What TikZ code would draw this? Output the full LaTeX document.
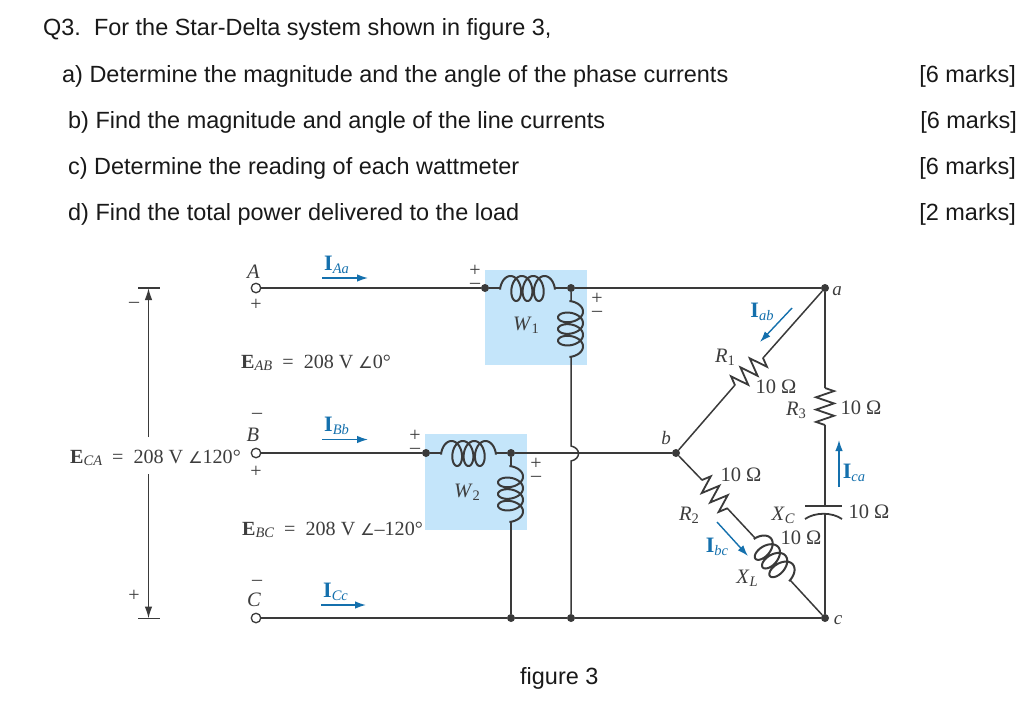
\documentclass[tikz,border=0pt]{standalone}
\usepackage{fontspec}
\setmainfont{Liberation Serif}
\newfontfamily\arialf{Liberation Sans}
\newfontfamily\djv{DejaVu Sans}
\usetikzlibrary{arrows.meta}
\definecolor{wire}{HTML}{3A3A3A}
\definecolor{ink}{HTML}{3D3D3D}
\definecolor{cblue}{HTML}{1470AD}
\definecolor{boxb}{HTML}{C4E5FA}
\newcommand\sbx[1]{\raisebox{-0.32ex}{\fontsize{14.5}{16}\selectfont #1}}
\newcommand\ang{{\djv\fontsize{16}{18}\selectfont ∠}}
\newcommand\bI[1]{\textbf{I}\sbx{\itshape #1}}
\newcommand\bE[1]{\textbf{E}\sbx{\itshape #1}}
\newcommand\mycoil[4]{% x y angle length
  \begin{scope}[shift={(#1,#2)},rotate=#3]
    \draw[wirel,line width=2pt] plot[variable=\t,domain=-95:1175,samples=180,smooth]
      ({(#4-15)*((\t+95)/1270)+7.5*sin(\t)+7.5},{-12.5*cos(\t)+0.5});
  \end{scope}}
\newcommand\myres[4]{% x y angle length
  \begin{scope}[shift={(#1,#2)},rotate=#3]
    \draw[wirel,line width=1.8pt,line join=miter]
      (0,0) -- ({#4*0.083},-9) -- ({#4*0.25},9) -- ({#4*0.417},-9) -- ({#4*0.583},9) -- ({#4*0.75},-9) -- ({#4*0.917},9) -- (#4,0);
  \end{scope}}
\tikzset{
  wirel/.style={draw=wire,line width=1.5pt},
  junction/.style={circle,fill=wire,inner sep=0pt,minimum size=8pt},
  terminal/.style={circle,draw=wire,fill=white,line width=1.3pt,inner sep=0pt,minimum size=9.5pt},
  qtext/.style={font=\arialf\fontsize{23.45}{27}\selectfont,text=black!90,anchor=base west,inner sep=0pt},
  mtext/.style={font=\arialf\fontsize{23.45}{27}\selectfont,text=black!90,anchor=base east,inner sep=0pt},
  ctext/.style={font=\fontsize{20.5}{24}\selectfont,text=ink,inner sep=0pt},
  ltext/.style={font=\fontsize{20.1}{24}\selectfont,text=ink,inner sep=0pt,anchor=base west},
  blab/.style={font=\fontsize{22}{25}\selectfont,text=cblue,inner sep=0pt},
  blabb/.style={font=\fontsize{22}{25}\selectfont,text=cblue,inner sep=0pt,anchor=base west},
  carrow/.style={draw=cblue,line width=1.4pt,-{Latex[length=11pt,width=7.5pt]}},
  varrow/.style={draw=wire,line width=1.4pt,-{Latex[length=12pt,width=7.5pt]}},
  sign/.style={font=\fontsize{20}{22}\selectfont,text=ink,inner sep=0pt},
  signpair/.style={font=\fontsize{20}{12}\selectfont,text=ink,inner sep=0pt,align=center},
  wbox/.style={fill=boxb,draw=none}
}
\begin{document}
\begin{tikzpicture}[x=1pt,y=-1pt]
\useasboundingbox (0,0) rectangle (1024,713);
\fill[white] (0,0) rectangle (1024,713);
% question text
\node[qtext] (q0) at (43,35) {Q3.\ \ For the Star-Delta system shown in figure 3,};
\node[qtext] (q1) at (62,82) {a) Determine the magnitude and the angle of the phase currents};
\node[qtext] (q2) at (68,128) {b) Find the magnitude and angle of the line currents};
\node[qtext] (q3) at (68,174) {c) Determine the reading of each wattmeter};
\node[qtext] (q4) at (68,220) {d) Find the total power delivered to the load};
\node[mtext] (m1) at (1016,82) {[6 marks]};
\node[mtext] (m2) at (1017,128) {[6 marks]};
\node[mtext] (m3) at (1016,174) {[6 marks]};
\node[mtext] (m4) at (1016,220) {[2 marks]};
\node[qtext] (fig) at (520,684) {figure 3};
% wattmeter boxes
\fill[wbox] (485,270) rectangle (587,365);
\fill[wbox] (425,434) rectangle (527,530);
% points
\node[terminal] (A) at (256,288) {};
\node[terminal] (B) at (256,453) {};
\node[terminal] (C) at (256,618) {};
\node[junction] (w1i) at (485,288) {};
\node[junction] (w1o) at (571,288) {};
\node[junction] (w2i) at (426,453) {};
\node[junction] (w2o) at (511,453) {};
\node[junction] (a) at (825,288) {};
\node[junction] (b) at (676,453) {};
\node[junction] (c) at (825,618) {};
\node[junction] (c1) at (511,618) {};
\node[junction] (c2) at (571,618) {};
\coordinate (h1a) at (500,288);
\coordinate (h1b) at (555,288);
\coordinate (v1a) at (571,301);
\coordinate (v1b) at (571,357);
\coordinate (h2a) at (441,453);
\coordinate (h2b) at (496,453);
\coordinate (v2a) at (511,466);
\coordinate (v2b) at (511,522);
\coordinate (hopa) at (571,446);
\coordinate (hopb) at (571,461);
\coordinate (r1a) at (763,358);
\coordinate (r1b) at (735,385);
\coordinate (r3a) at (825,388);
\coordinate (r3b) at (825,425);
\coordinate (r2a) at (702,480);
\coordinate (r2b) at (727,508);
\coordinate (la) at (755,538);
\coordinate (lb) at (790,580);
\coordinate (capa) at (825,506);
\coordinate (capb) at (825,513);
% wires
\draw[wirel] (A) -- (w1i) -- (h1a) (h1b) -- (w1o) -- (a);
\draw[wirel] (B) -- (w2i) -- (h2a) (h2b) -- (w2o) -- (b);
\draw[wirel] (C) -- (c1) -- (c2) -- (c);
\draw[wirel] (w1o) -- (v1a) (v1b) -- (hopa) .. controls (581,448) and (581,459) .. (hopb) -- (c2);
\draw[wirel] (w2o) -- (v2a) (v2b) -- (c1);
\draw[wirel] (a) -- (r1a) (r1b) -- (b) -- (r2a) (r2b) -- (la) (lb) -- (c);
\draw[wirel] (a) -- (r3a) (r3b) -- (capa) (capb) -- (c);
% coils
\mycoil{500}{288}{0}{55}
\mycoil{571}{301}{-90}{56}
\mycoil{441}{453}{0}{55}
\mycoil{511}{466}{-90}{56}
\mycoil{755}{538}{-50}{55}
% resistors
\myres{763}{358}{-136}{39}
\myres{825}{388}{-90}{37}
\myres{702}{480}{-48}{38}
% capacitor
\draw[wirel,line width=1.8pt] (805,506) -- (842,506);
\draw[wirel,line width=1.8pt] (805,519) .. controls (815,512) and (832,512) .. (842,519);
% voltage arrow
\coordinate (ttop) at (148.5,288);
\coordinate (tbot) at (148.5,618.5);
\coordinate (vm1) at (148.5,437);
\coordinate (vm2) at (148.5,474);
\draw[wire,line width=1.4pt] (138,288) -- (160,288) (138,618.5) -- (160,618.5);
\draw[varrow] (vm1) -- (ttop);
\draw[varrow] (vm2) -- (tbot);
% current arrows
\coordinate (iaa1) at (322,278); \coordinate (iaa2) at (368,278);
\coordinate (ibb1) at (322,439.5); \coordinate (ibb2) at (368,439.5);
\coordinate (icc1) at (321,605); \coordinate (icc2) at (366,605);
\coordinate (iab1) at (792,308); \coordinate (iab2) at (760,342);
\coordinate (ibc1) at (717,522); \coordinate (ibc2) at (748,556);
\coordinate (ica1) at (839,487); \coordinate (ica2) at (839,440);
\draw[carrow] (iaa1) -- (iaa2);
\draw[carrow] (ibb1) -- (ibb2);
\draw[carrow] (icc1) -- (icc2);
\draw[carrow] (iab1) -- (iab2);
\draw[carrow] (ibc1) -- (ibc2);
\draw[carrow] (ica1) -- (ica2);
% left labels
\node[ctext,font=\itshape\fontsize{20.5}{24}\selectfont] (lA) at (253.5,272) {A};
\node[ctext,font=\itshape\fontsize{20.5}{24}\selectfont] (lB) at (253,435) {B};
\node[ctext,font=\itshape\fontsize{20.5}{24}\selectfont] (lC) at (254,600) {C};
\node[sign] (pA) at (256,305) {+};
\node[sign] (mB) at (257,416) {–};
\node[sign] (pB) at (256,472) {+};
\node[sign] (mC) at (257,583) {–};
\node[sign] (mV) at (134,305) {–};
\node[sign] (pV) at (134,596) {+};
\node[ltext] (eab) at (241,368) {\bE{AB}\ \ =\ \ 208 V \ang0°};
\node[ltext] (ebc) at (242,535) {\bE{BC}\ \ =\ \ 208 V \ang–120°};
\node[ltext] (eca) at (70,463) {\bE{CA}\ \ =\ \ 208 V \ang120°};
\node[blabb] (liaa) at (324,270) {\bI{Aa}};
\node[blabb] (libb) at (324,431) {\bI{Bb}};
\node[blabb] (licc) at (323,597) {\bI{Cc}};
% wattmeter marks
\node[signpair] (s1) at (475,277) {+\\–};
\node[signpair] (s3) at (597,305) {+\\–};
\node[signpair] (s5) at (415,442) {+\\–};
\node[signpair] (s7) at (536,470) {+\\–};
\node[ctext] (lw1) at (526,325) {\textit{W}\sbx{1}};
\node[ctext] (lw2) at (467,492) {\textit{W}\sbx{2}};
% load labels
\node[ctext,font=\itshape\fontsize{19}{22}\selectfont] (la1) at (837,291) {a};
\node[ctext,font=\itshape\fontsize{19}{22}\selectfont] (lb1) at (666,438) {b};
\node[ctext,font=\itshape\fontsize{19}{22}\selectfont] (lc1) at (838,620) {c};
\node[blab] (liab) at (762,312) {\bI{ab}};
\node[blab] (libc) at (717,547) {\bI{bc}};
\node[blab] (lica) at (854,473) {\bI{ca}};
\node[ctext] (lr1) at (725,357) {\textit{R}\sbx{1}};
\node[ctext] (lr2) at (689,515) {\textit{R}\sbx{2}};
\node[ctext] (lr3) at (796,410) {\textit{R}\sbx{3}};
\node[ctext] (lxc) at (783,515) {\textit{X}\sbx{\itshape C}};
\node[ctext] (lxl) at (747,578) {\textit{X}\sbx{\itshape L}};
\node[ctext] (o1) at (776,387) {10 Ω};
\node[ctext] (o2) at (741,475) {10 Ω};
\node[ctext] (o3) at (861,408) {10 Ω};
\node[ctext] (o4) at (869,512) {10 Ω};
\node[ctext] (o5) at (801,538) {10 Ω};
\end{tikzpicture}
\end{document}
